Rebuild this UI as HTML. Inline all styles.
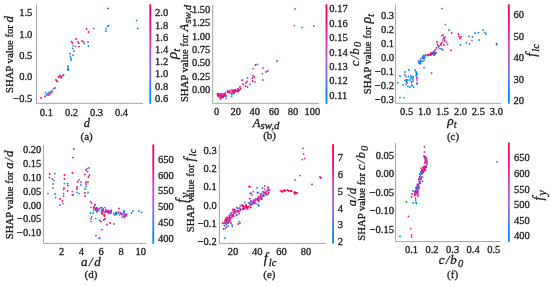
<!DOCTYPE html>
<html><head><meta charset="utf-8"><title>SHAP dependence plots</title>
<style>
html,body{margin:0;padding:0;background:#fff;}
svg{display:block;}
text{font-family:"Liberation Serif",serif;fill:#1c1c1c;stroke:#1c1c1c;stroke-width:0.3px;}
</style></head><body>
<svg width="550" height="286" viewBox="0 0 550 286">
<defs><linearGradient id="g" x1="0" y1="0" x2="0" y2="1"><stop offset="0.00" stop-color="#ff0051"/><stop offset="0.10" stop-color="#ff006e"/><stop offset="0.20" stop-color="#fb008a"/><stop offset="0.30" stop-color="#ef1ea5"/><stop offset="0.40" stop-color="#dc3abe"/><stop offset="0.50" stop-color="#c44fd4"/><stop offset="0.60" stop-color="#a460e6"/><stop offset="0.70" stop-color="#7c6ef3"/><stop offset="0.80" stop-color="#407afb"/><stop offset="0.90" stop-color="#0083fd"/><stop offset="1.00" stop-color="#008bfb"/></linearGradient></defs>
<rect width="550" height="286" fill="#fff"/>
<path d="M36.50 4.60V103.35H143.00" fill="none" stroke="#7c7c7c" stroke-width="0.7"/>
<text x="32.30" y="16.07" font-size="10.5" text-anchor="end" style="">1.5</text>
<text x="32.30" y="37.52" font-size="10.5" text-anchor="end" style="">1.0</text>
<text x="32.30" y="58.97" font-size="10.5" text-anchor="end" style="">0.5</text>
<text x="32.30" y="80.41" font-size="10.5" text-anchor="end" style="">0.0</text>
<text x="32.30" y="101.86" font-size="10.5" text-anchor="end" style="">−0.5</text>
<text x="46.40" y="115.67" font-size="10.5" text-anchor="middle" style="">0.1</text>
<text x="71.45" y="115.67" font-size="10.5" text-anchor="middle" style="">0.2</text>
<text x="96.50" y="115.67" font-size="10.5" text-anchor="middle" style="">0.3</text>
<text x="121.55" y="115.67" font-size="10.5" text-anchor="middle" style="">0.4</text>
<path d="M34.90 12.60H36.50M34.90 34.05H36.50M34.90 55.50H36.50M34.90 76.95H36.50M34.90 98.40H36.50M46.40 103.35V104.95M71.45 103.35V104.95M96.50 103.35V104.95M121.55 103.35V104.95" stroke="#c4c4c4" stroke-width="0.6" fill="none"/>
<rect x="149.35" y="4.30" width="1.8" height="99.50" fill="url(#g)"/>
<text x="155.00" y="16.46" font-size="10.5" text-anchor="start" style="">2.0</text>
<text x="155.00" y="28.66" font-size="10.5" text-anchor="start" style="">1.8</text>
<text x="155.00" y="40.87" font-size="10.5" text-anchor="start" style="">1.6</text>
<text x="155.00" y="53.06" font-size="10.5" text-anchor="start" style="">1.4</text>
<text x="155.00" y="65.27" font-size="10.5" text-anchor="start" style="">1.2</text>
<text x="155.00" y="77.47" font-size="10.5" text-anchor="start" style="">1.0</text>
<text x="155.00" y="89.66" font-size="10.5" text-anchor="start" style="">0.8</text>
<text x="155.00" y="101.86" font-size="10.5" text-anchor="start" style="">0.6</text>
<text x="86.80" y="127.30" font-size="12.5" text-anchor="middle" style="" id="ax"><tspan font-style="italic">d</tspan></text>
<text x="86.60" y="139.50" font-size="11" text-anchor="middle" style="" id="ac">(a)</text>
<text x="12.70" y="54.50" font-size="10.7" text-anchor="middle" style="" transform="rotate(-90 12.70 54.50)" id="ay">SHAP value for <tspan font-style="italic" font-size="13">d</tspan></text>
<text x="177.20" y="54.00" font-size="13" text-anchor="middle" style="" transform="rotate(-90 177.20 54.00)" id="ab"><tspan font-style="italic" font-size="15">ρ</tspan><tspan font-style="italic" font-size="10.5" dy="2.5" dx="0">t</tspan></text>
<circle cx="108.0" cy="8.4" r="0.9" fill="#ff0060"/>
<circle cx="136.6" cy="20.4" r="0.9" fill="#0089fc"/>
<circle cx="137.8" cy="28.4" r="0.9" fill="#0089fc"/>
<circle cx="107.6" cy="26.4" r="0.9" fill="#0089fc"/>
<circle cx="108.4" cy="25.6" r="0.9" fill="#0089fc"/>
<circle cx="106.0" cy="28.8" r="0.9" fill="#0089fc"/>
<circle cx="106.0" cy="31.2" r="0.9" fill="#0089fc"/>
<circle cx="93.6" cy="28.4" r="0.9" fill="#9a48dc"/>
<circle cx="86.6" cy="29.0" r="0.9" fill="#ff0060"/>
<circle cx="88.4" cy="32.0" r="0.9" fill="#ff0060"/>
<circle cx="76.0" cy="39.0" r="0.9" fill="#ff0060"/>
<circle cx="71.6" cy="41.6" r="0.9" fill="#ff0060"/>
<circle cx="72.4" cy="43.2" r="0.9" fill="#ff0060"/>
<circle cx="78.0" cy="42.0" r="0.9" fill="#0089fc"/>
<circle cx="78.6" cy="43.2" r="0.9" fill="#ff0060"/>
<circle cx="82.0" cy="41.0" r="0.9" fill="#ff0060"/>
<circle cx="83.6" cy="42.0" r="0.9" fill="#9a48dc"/>
<circle cx="84.0" cy="43.6" r="0.9" fill="#0089fc"/>
<circle cx="88.0" cy="42.0" r="0.9" fill="#9a48dc"/>
<circle cx="88.4" cy="46.0" r="0.9" fill="#0089fc"/>
<circle cx="73.0" cy="45.6" r="0.9" fill="#0089fc"/>
<circle cx="75.4" cy="46.4" r="0.9" fill="#9a48dc"/>
<circle cx="72.6" cy="48.4" r="0.9" fill="#0089fc"/>
<circle cx="79.0" cy="46.6" r="0.9" fill="#ff0060"/>
<circle cx="74.0" cy="51.0" r="0.9" fill="#9a48dc"/>
<circle cx="70.0" cy="53.6" r="0.9" fill="#ff0060"/>
<circle cx="73.0" cy="55.2" r="0.9" fill="#0089fc"/>
<circle cx="70.4" cy="56.4" r="0.9" fill="#0089fc"/>
<circle cx="71.0" cy="58.4" r="0.9" fill="#0089fc"/>
<circle cx="71.0" cy="60.0" r="0.9" fill="#0089fc"/>
<circle cx="68.0" cy="66.0" r="0.9" fill="#0089fc"/>
<circle cx="68.0" cy="68.0" r="0.9" fill="#0089fc"/>
<circle cx="68.6" cy="70.0" r="0.9" fill="#0089fc"/>
<circle cx="67.6" cy="69.6" r="0.9" fill="#ff0060"/>
<circle cx="59.6" cy="75.6" r="0.9" fill="#ff0060"/>
<circle cx="61.6" cy="77.0" r="0.9" fill="#0089fc"/>
<circle cx="58.6" cy="77.0" r="0.9" fill="#ff0060"/>
<circle cx="63.6" cy="75.0" r="0.9" fill="#0089fc"/>
<circle cx="61.0" cy="78.0" r="0.9" fill="#9a48dc"/>
<circle cx="60.4" cy="76.4" r="0.9" fill="#ff0060"/>
<circle cx="62.6" cy="75.6" r="0.9" fill="#9a48dc"/>
<circle cx="56.0" cy="80.0" r="0.9" fill="#ff0060"/>
<circle cx="57.6" cy="81.6" r="0.9" fill="#0089fc"/>
<circle cx="56.8" cy="81.0" r="0.9" fill="#ff0060"/>
<circle cx="55.0" cy="88.0" r="0.9" fill="#ff0060"/>
<circle cx="53.6" cy="88.6" r="0.9" fill="#0089fc"/>
<circle cx="45.6" cy="92.6" r="0.9" fill="#0089fc"/>
<circle cx="50.0" cy="91.6" r="0.9" fill="#0089fc"/>
<circle cx="51.6" cy="92.4" r="0.9" fill="#ff0060"/>
<circle cx="49.0" cy="93.0" r="0.9" fill="#0089fc"/>
<circle cx="49.0" cy="95.0" r="0.9" fill="#ff0060"/>
<circle cx="47.0" cy="95.0" r="0.9" fill="#9a48dc"/>
<circle cx="45.0" cy="96.4" r="0.9" fill="#ff0060"/>
<circle cx="52.0" cy="91.0" r="0.9" fill="#0089fc"/>
<circle cx="48.0" cy="93.6" r="0.9" fill="#ff0060"/>
<circle cx="50.6" cy="93.6" r="0.9" fill="#9a48dc"/>
<circle cx="46.4" cy="94.6" r="0.9" fill="#0089fc"/>
<circle cx="41.0" cy="98.0" r="0.9" fill="#ff0060"/>
<path d="M212.70 4.70V103.35H319.00" fill="none" stroke="#7c7c7c" stroke-width="0.7"/>
<text x="210.30" y="12.66" font-size="10.5" text-anchor="end" style="">1.50</text>
<text x="210.30" y="26.11" font-size="10.5" text-anchor="end" style="">1.25</text>
<text x="210.30" y="39.56" font-size="10.5" text-anchor="end" style="">1.00</text>
<text x="210.30" y="53.02" font-size="10.5" text-anchor="end" style="">0.75</text>
<text x="210.30" y="66.47" font-size="10.5" text-anchor="end" style="">0.50</text>
<text x="210.30" y="79.92" font-size="10.5" text-anchor="end" style="">0.25</text>
<text x="210.30" y="93.36" font-size="10.5" text-anchor="end" style="">0.00</text>
<text x="216.60" y="114.97" font-size="10.5" text-anchor="middle" style="">0</text>
<text x="235.73" y="114.97" font-size="10.5" text-anchor="middle" style="">20</text>
<text x="254.86" y="114.97" font-size="10.5" text-anchor="middle" style="">40</text>
<text x="273.99" y="114.97" font-size="10.5" text-anchor="middle" style="">60</text>
<text x="293.12" y="114.97" font-size="10.5" text-anchor="middle" style="">80</text>
<text x="312.25" y="114.97" font-size="10.5" text-anchor="middle" style="">100</text>
<path d="M211.10 9.20H212.70M211.10 22.65H212.70M211.10 36.10H212.70M211.10 49.55H212.70M211.10 63.00H212.70M211.10 76.45H212.70M211.10 89.90H212.70M216.60 103.35V104.95M235.73 103.35V104.95M254.86 103.35V104.95M273.99 103.35V104.95M293.12 103.35V104.95M312.25 103.35V104.95" stroke="#c4c4c4" stroke-width="0.6" fill="none"/>
<rect x="325.55" y="4.30" width="1.8" height="99.50" fill="url(#g)"/>
<text x="329.30" y="12.46" font-size="10.5" text-anchor="start" style="">0.17</text>
<text x="329.30" y="26.86" font-size="10.5" text-anchor="start" style="">0.16</text>
<text x="329.30" y="41.27" font-size="10.5" text-anchor="start" style="">0.15</text>
<text x="329.30" y="55.67" font-size="10.5" text-anchor="start" style="">0.14</text>
<text x="329.30" y="70.06" font-size="10.5" text-anchor="start" style="">0.13</text>
<text x="329.30" y="84.47" font-size="10.5" text-anchor="start" style="">0.12</text>
<text x="329.30" y="98.87" font-size="10.5" text-anchor="start" style="">0.11</text>
<text x="266.00" y="126.50" font-size="13" text-anchor="middle" style="" id="bx"><tspan font-style="italic" font-size="12.5">A</tspan><tspan font-style="italic" font-size="10.8" dy="2.5" dx="0.3">sw,d</tspan></text>
<text x="269.60" y="139.40" font-size="11" text-anchor="middle" style="" id="bc">(b)</text>
<text x="188.00" y="53.50" font-size="10.7" text-anchor="middle" style="" transform="rotate(-90 188.00 53.50)" id="by">SHAP value for <tspan font-style="italic" font-size="12.5">A</tspan><tspan font-style="italic" font-size="10.8" dy="2.5" dx="0.3">sw,d</tspan></text>
<text x="358.50" y="54.00" font-size="13" text-anchor="middle" style="" transform="rotate(-90 358.50 54.00)" id="bb"><tspan font-style="italic" font-size="13" letter-spacing="1.1">c/b</tspan><tspan font-style="italic" font-size="10.5" dy="2.5">0</tspan></text>
<circle cx="277.0" cy="61.0" r="0.9" fill="#ff0060"/>
<circle cx="257.4" cy="64.4" r="0.9" fill="#0089fc"/>
<circle cx="255.6" cy="65.0" r="0.9" fill="#ff0060"/>
<circle cx="253.0" cy="68.6" r="0.9" fill="#9a48dc"/>
<circle cx="263.0" cy="68.0" r="0.9" fill="#9a48dc"/>
<circle cx="267.6" cy="71.0" r="0.9" fill="#ff0060"/>
<circle cx="266.0" cy="72.0" r="0.9" fill="#9a48dc"/>
<circle cx="262.4" cy="73.6" r="0.9" fill="#0089fc"/>
<circle cx="253.0" cy="75.6" r="0.9" fill="#ff0060"/>
<circle cx="254.4" cy="77.0" r="0.9" fill="#ff0060"/>
<circle cx="252.4" cy="78.0" r="0.9" fill="#ff0060"/>
<circle cx="247.4" cy="78.0" r="0.9" fill="#9a48dc"/>
<circle cx="242.0" cy="80.4" r="0.9" fill="#0089fc"/>
<circle cx="242.6" cy="80.0" r="0.9" fill="#9a48dc"/>
<circle cx="263.0" cy="80.0" r="0.9" fill="#9a48dc"/>
<circle cx="252.6" cy="81.0" r="0.9" fill="#ff0060"/>
<circle cx="255.0" cy="82.0" r="0.9" fill="#9a48dc"/>
<circle cx="247.0" cy="81.4" r="0.9" fill="#ff0060"/>
<circle cx="246.0" cy="83.0" r="0.9" fill="#ff0060"/>
<circle cx="250.0" cy="84.4" r="0.9" fill="#9a48dc"/>
<circle cx="243.0" cy="84.0" r="0.9" fill="#ff0060"/>
<circle cx="245.6" cy="86.0" r="0.9" fill="#ff0060"/>
<circle cx="247.6" cy="87.0" r="0.9" fill="#9a48dc"/>
<circle cx="240.0" cy="87.0" r="0.9" fill="#ff0060"/>
<circle cx="240.4" cy="89.0" r="0.9" fill="#ff0060"/>
<circle cx="232.0" cy="94.4" r="0.9" fill="#0089fc"/>
<circle cx="231.6" cy="96.4" r="0.9" fill="#0089fc"/>
<circle cx="223.6" cy="96.0" r="0.9" fill="#0089fc"/>
<circle cx="235.0" cy="91.0" r="0.9" fill="#0089fc"/>
<circle cx="220.4" cy="99.0" r="0.9" fill="#ff0060"/>
<circle cx="295.0" cy="9.0" r="0.9" fill="#dc2cc0"/>
<circle cx="294.4" cy="25.6" r="0.9" fill="#dc2cc0"/>
<circle cx="302.0" cy="27.6" r="0.9" fill="#0089fc"/>
<circle cx="314.0" cy="26.0" r="0.9" fill="#dc2cc0"/>
<circle cx="220.9" cy="95.9" r="0.9" fill="#ff0060"/>
<circle cx="225.1" cy="95.7" r="0.9" fill="#dc2cc0"/>
<circle cx="220.0" cy="95.2" r="0.9" fill="#ff0060"/>
<circle cx="217.7" cy="95.5" r="0.9" fill="#ff0060"/>
<circle cx="225.1" cy="94.0" r="0.9" fill="#ff0060"/>
<circle cx="221.4" cy="96.5" r="0.9" fill="#ff0060"/>
<circle cx="222.7" cy="95.6" r="0.9" fill="#dc2cc0"/>
<circle cx="218.4" cy="96.4" r="0.9" fill="#ff0060"/>
<circle cx="218.4" cy="94.4" r="0.9" fill="#ff0060"/>
<circle cx="222.5" cy="95.0" r="0.9" fill="#ff0060"/>
<circle cx="221.0" cy="94.5" r="0.9" fill="#ff0060"/>
<circle cx="222.2" cy="95.1" r="0.9" fill="#ff0060"/>
<circle cx="223.6" cy="96.2" r="0.9" fill="#dc2cc0"/>
<circle cx="221.6" cy="95.7" r="0.9" fill="#dc2cc0"/>
<circle cx="226.2" cy="95.7" r="0.9" fill="#ff0060"/>
<circle cx="218.9" cy="94.7" r="0.9" fill="#9a48dc"/>
<circle cx="217.6" cy="94.0" r="0.9" fill="#ff0060"/>
<circle cx="220.2" cy="95.7" r="0.9" fill="#ff0060"/>
<circle cx="218.7" cy="95.1" r="0.9" fill="#9a48dc"/>
<circle cx="224.0" cy="95.4" r="0.9" fill="#9a48dc"/>
<circle cx="222.3" cy="93.8" r="0.9" fill="#9a48dc"/>
<circle cx="220.9" cy="94.6" r="0.9" fill="#ff0060"/>
<circle cx="220.3" cy="94.0" r="0.9" fill="#ff0060"/>
<circle cx="224.4" cy="95.5" r="0.9" fill="#ff0060"/>
<circle cx="225.0" cy="95.0" r="0.9" fill="#ff0060"/>
<circle cx="223.0" cy="93.6" r="0.9" fill="#dc2cc0"/>
<circle cx="219.7" cy="95.2" r="0.9" fill="#ff0060"/>
<circle cx="225.8" cy="95.5" r="0.9" fill="#ff0060"/>
<circle cx="224.1" cy="95.0" r="0.9" fill="#ff0060"/>
<circle cx="220.5" cy="94.7" r="0.9" fill="#ff0060"/>
<circle cx="222.7" cy="95.3" r="0.9" fill="#dc2cc0"/>
<circle cx="225.1" cy="93.6" r="0.9" fill="#ff0060"/>
<circle cx="225.4" cy="93.0" r="0.9" fill="#dc2cc0"/>
<circle cx="220.8" cy="95.0" r="0.9" fill="#9a48dc"/>
<circle cx="221.6" cy="97.5" r="0.9" fill="#ff0060"/>
<circle cx="219.0" cy="94.9" r="0.9" fill="#ff0060"/>
<circle cx="221.3" cy="94.3" r="0.9" fill="#dc2cc0"/>
<circle cx="218.5" cy="93.6" r="0.9" fill="#ff0060"/>
<circle cx="236.0" cy="90.6" r="0.9" fill="#ff0060"/>
<circle cx="229.5" cy="90.3" r="0.9" fill="#ff0060"/>
<circle cx="233.2" cy="91.9" r="0.9" fill="#9a48dc"/>
<circle cx="231.4" cy="93.3" r="0.9" fill="#ff0060"/>
<circle cx="234.1" cy="93.3" r="0.9" fill="#ff0060"/>
<circle cx="228.8" cy="92.2" r="0.9" fill="#dc2cc0"/>
<circle cx="230.8" cy="91.7" r="0.9" fill="#ff0060"/>
<circle cx="234.2" cy="91.0" r="0.9" fill="#ff0060"/>
<circle cx="234.1" cy="90.6" r="0.9" fill="#ff0060"/>
<circle cx="235.2" cy="89.7" r="0.9" fill="#ff0060"/>
<circle cx="237.8" cy="89.1" r="0.9" fill="#ff0060"/>
<circle cx="228.8" cy="92.2" r="0.9" fill="#ff0060"/>
<circle cx="237.0" cy="90.5" r="0.9" fill="#dc2cc0"/>
<circle cx="238.3" cy="90.4" r="0.9" fill="#ff0060"/>
<circle cx="239.2" cy="90.2" r="0.9" fill="#ff0060"/>
<circle cx="232.9" cy="92.3" r="0.9" fill="#dc2cc0"/>
<circle cx="237.2" cy="90.3" r="0.9" fill="#9a48dc"/>
<circle cx="227.5" cy="90.9" r="0.9" fill="#9a48dc"/>
<circle cx="236.5" cy="90.6" r="0.9" fill="#9a48dc"/>
<circle cx="231.8" cy="89.8" r="0.9" fill="#ff0060"/>
<circle cx="233.1" cy="91.2" r="0.9" fill="#ff0060"/>
<circle cx="229.4" cy="92.6" r="0.9" fill="#ff0060"/>
<circle cx="238.1" cy="91.5" r="0.9" fill="#ff0060"/>
<circle cx="235.2" cy="91.7" r="0.9" fill="#ff0060"/>
<circle cx="227.5" cy="91.3" r="0.9" fill="#ff0060"/>
<circle cx="234.4" cy="91.0" r="0.9" fill="#ff0060"/>
<circle cx="237.9" cy="90.8" r="0.9" fill="#ff0060"/>
<circle cx="233.6" cy="90.7" r="0.9" fill="#dc2cc0"/>
<circle cx="233.3" cy="93.0" r="0.9" fill="#ff0060"/>
<circle cx="238.2" cy="88.7" r="0.9" fill="#dc2cc0"/>
<circle cx="233.1" cy="91.2" r="0.9" fill="#dc2cc0"/>
<circle cx="228.0" cy="92.2" r="0.9" fill="#ff0060"/>
<circle cx="235.0" cy="90.6" r="0.9" fill="#ff0060"/>
<circle cx="233.1" cy="90.5" r="0.9" fill="#ff0060"/>
<circle cx="235.4" cy="90.6" r="0.9" fill="#ff0060"/>
<circle cx="238.8" cy="90.2" r="0.9" fill="#ff0060"/>
<circle cx="223.4" cy="96.5" r="0.9" fill="#ff0060"/>
<circle cx="221.4" cy="95.9" r="0.9" fill="#0089fc"/>
<circle cx="220.2" cy="97.4" r="0.9" fill="#9a48dc"/>
<circle cx="222.6" cy="97.5" r="0.9" fill="#9a48dc"/>
<circle cx="225.9" cy="96.2" r="0.9" fill="#9a48dc"/>
<circle cx="220.6" cy="97.1" r="0.9" fill="#ff0060"/>
<circle cx="223.2" cy="96.7" r="0.9" fill="#9a48dc"/>
<circle cx="224.9" cy="96.2" r="0.9" fill="#0089fc"/>
<circle cx="223.1" cy="97.0" r="0.9" fill="#ff0060"/>
<circle cx="226.1" cy="98.4" r="0.9" fill="#9a48dc"/>
<path d="M395.60 4.60V103.35H501.00" fill="none" stroke="#7c7c7c" stroke-width="0.7"/>
<text x="394.00" y="18.96" font-size="10.5" text-anchor="end" style="">0.3</text>
<text x="394.00" y="32.97" font-size="10.5" text-anchor="end" style="">0.2</text>
<text x="394.00" y="46.97" font-size="10.5" text-anchor="end" style="">0.1</text>
<text x="394.00" y="60.97" font-size="10.5" text-anchor="end" style="">0.0</text>
<text x="394.00" y="74.97" font-size="10.5" text-anchor="end" style="">−0.1</text>
<text x="394.00" y="88.97" font-size="10.5" text-anchor="end" style="">−0.2</text>
<text x="394.00" y="102.97" font-size="10.5" text-anchor="end" style="">−0.3</text>
<text x="406.60" y="114.97" font-size="10.5" text-anchor="middle" style="">0.5</text>
<text x="424.55" y="114.97" font-size="10.5" text-anchor="middle" style="">1.0</text>
<text x="442.50" y="114.97" font-size="10.5" text-anchor="middle" style="">1.5</text>
<text x="460.45" y="114.97" font-size="10.5" text-anchor="middle" style="">2.0</text>
<text x="478.40" y="114.97" font-size="10.5" text-anchor="middle" style="">2.5</text>
<text x="496.35" y="114.97" font-size="10.5" text-anchor="middle" style="">3.0</text>
<path d="M394.00 15.50H395.60M394.00 29.50H395.60M394.00 43.50H395.60M394.00 57.50H395.60M394.00 71.50H395.60M394.00 85.50H395.60M394.00 99.50H395.60M406.60 103.35V104.95M424.55 103.35V104.95M442.50 103.35V104.95M460.45 103.35V104.95M478.40 103.35V104.95M496.35 103.35V104.95" stroke="#c4c4c4" stroke-width="0.6" fill="none"/>
<rect x="507.95" y="4.30" width="1.8" height="99.30" fill="url(#g)"/>
<text x="513.50" y="17.96" font-size="10.5" text-anchor="start" style="">60</text>
<text x="513.50" y="39.57" font-size="10.5" text-anchor="start" style="">50</text>
<text x="513.50" y="61.17" font-size="10.5" text-anchor="start" style="">40</text>
<text x="513.50" y="82.77" font-size="10.5" text-anchor="start" style="">30</text>
<text x="513.50" y="104.37" font-size="10.5" text-anchor="start" style="">20</text>
<text x="452.00" y="125.30" font-size="13" text-anchor="middle" style="" id="cx"><tspan font-style="italic" font-size="13.5">ρ</tspan><tspan font-style="italic" font-size="10" dy="2.5" dx="0">t</tspan></text>
<text x="453.00" y="139.80" font-size="11" text-anchor="middle" style="" id="cc">(c)</text>
<text x="371.40" y="54.10" font-size="10.7" text-anchor="middle" style="" transform="rotate(-90 371.40 54.10)" id="cy">SHAP value for <tspan font-style="italic" font-size="14">ρ</tspan><tspan font-style="italic" font-size="10" dy="2.5" dx="0">t</tspan></text>
<text x="536.00" y="50.40" font-size="13" text-anchor="middle" style="" transform="rotate(-90 536.00 50.40)" id="cb"><tspan font-style="italic" font-size="14">f</tspan><tspan font-style="italic" font-size="10.5" dy="2.6" dx="1.2">lc</tspan></text>
<circle cx="442.0" cy="8.6" r="0.9" fill="#9a48dc"/>
<circle cx="445.4" cy="24.6" r="0.9" fill="#9a48dc"/>
<circle cx="449.0" cy="30.0" r="0.9" fill="#0089fc"/>
<circle cx="451.6" cy="33.0" r="0.9" fill="#ff0060"/>
<circle cx="443.0" cy="35.0" r="0.9" fill="#9a48dc"/>
<circle cx="442.0" cy="35.6" r="0.9" fill="#ff0060"/>
<circle cx="445.0" cy="37.0" r="0.9" fill="#9a48dc"/>
<circle cx="444.4" cy="39.0" r="0.9" fill="#9a48dc"/>
<circle cx="437.0" cy="42.0" r="0.9" fill="#ff0060"/>
<circle cx="442.0" cy="42.6" r="0.9" fill="#ff0060"/>
<circle cx="441.0" cy="43.6" r="0.9" fill="#ff0060"/>
<circle cx="446.4" cy="42.4" r="0.9" fill="#9a48dc"/>
<circle cx="447.6" cy="44.4" r="0.9" fill="#9a48dc"/>
<circle cx="444.0" cy="45.0" r="0.9" fill="#ff0060"/>
<circle cx="458.4" cy="34.0" r="0.9" fill="#ff0060"/>
<circle cx="459.0" cy="36.4" r="0.9" fill="#ff0060"/>
<circle cx="461.0" cy="37.0" r="0.9" fill="#ff0060"/>
<circle cx="460.0" cy="38.4" r="0.9" fill="#ff0060"/>
<circle cx="469.0" cy="36.4" r="0.9" fill="#4f6ff0"/>
<circle cx="472.4" cy="37.0" r="0.9" fill="#4f6ff0"/>
<circle cx="475.0" cy="33.0" r="0.9" fill="#0089fc"/>
<circle cx="478.4" cy="32.6" r="0.9" fill="#0089fc"/>
<circle cx="483.0" cy="30.0" r="0.9" fill="#0089fc"/>
<circle cx="485.0" cy="32.4" r="0.9" fill="#0089fc"/>
<circle cx="486.0" cy="34.0" r="0.9" fill="#0089fc"/>
<circle cx="479.0" cy="40.0" r="0.9" fill="#0089fc"/>
<circle cx="472.0" cy="40.6" r="0.9" fill="#4f6ff0"/>
<circle cx="466.4" cy="43.0" r="0.9" fill="#4f6ff0"/>
<circle cx="469.6" cy="44.0" r="0.9" fill="#4f6ff0"/>
<circle cx="460.4" cy="45.0" r="0.9" fill="#0089fc"/>
<circle cx="496.4" cy="43.6" r="0.9" fill="#ff0060"/>
<circle cx="496.8" cy="44.8" r="0.9" fill="#0089fc"/>
<circle cx="436.4" cy="48.0" r="0.9" fill="#ff0060"/>
<circle cx="440.0" cy="48.6" r="0.9" fill="#0089fc"/>
<circle cx="441.6" cy="49.0" r="0.9" fill="#0089fc"/>
<circle cx="443.0" cy="50.0" r="0.9" fill="#9a48dc"/>
<circle cx="451.0" cy="50.4" r="0.9" fill="#ff0060"/>
<circle cx="435.0" cy="50.0" r="0.9" fill="#ff0060"/>
<circle cx="434.0" cy="51.6" r="0.9" fill="#0089fc"/>
<circle cx="424.0" cy="67.6" r="0.9" fill="#0089fc"/>
<circle cx="431.6" cy="73.0" r="0.9" fill="#9a48dc"/>
<circle cx="409.0" cy="70.0" r="0.9" fill="#0089fc"/>
<circle cx="415.0" cy="70.0" r="0.9" fill="#0089fc"/>
<circle cx="416.0" cy="72.0" r="0.9" fill="#0089fc"/>
<circle cx="417.0" cy="74.0" r="0.9" fill="#0089fc"/>
<circle cx="416.4" cy="76.0" r="0.9" fill="#0089fc"/>
<circle cx="405.0" cy="72.0" r="0.9" fill="#0089fc"/>
<circle cx="405.0" cy="75.0" r="0.9" fill="#9a48dc"/>
<circle cx="400.0" cy="76.0" r="0.9" fill="#0089fc"/>
<circle cx="413.0" cy="78.0" r="0.9" fill="#0089fc"/>
<circle cx="411.0" cy="78.0" r="0.9" fill="#0089fc"/>
<circle cx="417.0" cy="78.0" r="0.9" fill="#ff0060"/>
<circle cx="417.0" cy="80.0" r="0.9" fill="#9a48dc"/>
<circle cx="417.0" cy="83.0" r="0.9" fill="#9a48dc"/>
<circle cx="406.4" cy="81.0" r="0.9" fill="#0089fc"/>
<circle cx="410.0" cy="80.0" r="0.9" fill="#0089fc"/>
<circle cx="411.6" cy="82.0" r="0.9" fill="#ff0060"/>
<circle cx="407.0" cy="83.0" r="0.9" fill="#0089fc"/>
<circle cx="406.0" cy="84.4" r="0.9" fill="#9a48dc"/>
<circle cx="403.0" cy="85.0" r="0.9" fill="#0089fc"/>
<circle cx="408.0" cy="86.4" r="0.9" fill="#0089fc"/>
<circle cx="410.0" cy="87.0" r="0.9" fill="#0089fc"/>
<circle cx="412.0" cy="85.6" r="0.9" fill="#0089fc"/>
<circle cx="413.6" cy="87.0" r="0.9" fill="#0089fc"/>
<circle cx="417.0" cy="84.0" r="0.9" fill="#0089fc"/>
<circle cx="400.0" cy="97.6" r="0.9" fill="#0089fc"/>
<circle cx="404.0" cy="97.6" r="0.9" fill="#0089fc"/>
<circle cx="435.2" cy="53.9" r="0.9" fill="#0089fc"/>
<circle cx="425.0" cy="55.8" r="0.9" fill="#ff0060"/>
<circle cx="428.8" cy="54.6" r="0.9" fill="#ff0060"/>
<circle cx="423.4" cy="55.6" r="0.9" fill="#0089fc"/>
<circle cx="427.9" cy="54.4" r="0.9" fill="#0089fc"/>
<circle cx="425.8" cy="55.3" r="0.9" fill="#0089fc"/>
<circle cx="424.8" cy="57.4" r="0.9" fill="#0089fc"/>
<circle cx="427.8" cy="55.5" r="0.9" fill="#4f6ff0"/>
<circle cx="433.8" cy="53.5" r="0.9" fill="#9a48dc"/>
<circle cx="430.7" cy="53.5" r="0.9" fill="#0089fc"/>
<circle cx="434.3" cy="54.7" r="0.9" fill="#ff0060"/>
<circle cx="434.3" cy="51.6" r="0.9" fill="#0089fc"/>
<circle cx="431.4" cy="54.3" r="0.9" fill="#0089fc"/>
<circle cx="428.8" cy="55.1" r="0.9" fill="#ff0060"/>
<circle cx="432.6" cy="54.0" r="0.9" fill="#0089fc"/>
<circle cx="435.6" cy="53.1" r="0.9" fill="#ff0060"/>
<circle cx="431.0" cy="53.5" r="0.9" fill="#ff0060"/>
<circle cx="430.3" cy="54.7" r="0.9" fill="#0089fc"/>
<circle cx="436.1" cy="52.6" r="0.9" fill="#9a48dc"/>
<circle cx="430.9" cy="54.7" r="0.9" fill="#ff0060"/>
<circle cx="425.6" cy="54.8" r="0.9" fill="#ff0060"/>
<circle cx="432.1" cy="52.5" r="0.9" fill="#ff0060"/>
<circle cx="432.9" cy="53.4" r="0.9" fill="#4f6ff0"/>
<circle cx="434.3" cy="55.2" r="0.9" fill="#0089fc"/>
<circle cx="435.1" cy="53.1" r="0.9" fill="#ff0060"/>
<circle cx="430.2" cy="54.7" r="0.9" fill="#ff0060"/>
<circle cx="434.1" cy="52.3" r="0.9" fill="#0089fc"/>
<circle cx="432.8" cy="53.6" r="0.9" fill="#ff0060"/>
<circle cx="443.6" cy="38.0" r="0.9" fill="#ff0060"/>
<circle cx="442.6" cy="40.0" r="0.9" fill="#9a48dc"/>
<circle cx="444.6" cy="41.0" r="0.9" fill="#ff0060"/>
<circle cx="441.0" cy="45.0" r="0.9" fill="#ff0060"/>
<circle cx="439.0" cy="46.0" r="0.9" fill="#ff0060"/>
<circle cx="437.6" cy="45.0" r="0.9" fill="#ff0060"/>
<circle cx="438.4" cy="47.0" r="0.9" fill="#9a48dc"/>
<circle cx="420.6" cy="63.3" r="0.9" fill="#0089fc"/>
<circle cx="420.3" cy="61.7" r="0.9" fill="#0089fc"/>
<circle cx="419.0" cy="62.9" r="0.9" fill="#0089fc"/>
<circle cx="421.6" cy="61.2" r="0.9" fill="#0089fc"/>
<circle cx="418.8" cy="62.6" r="0.9" fill="#0089fc"/>
<circle cx="420.1" cy="62.3" r="0.9" fill="#0089fc"/>
<circle cx="420.6" cy="59.1" r="0.9" fill="#9a48dc"/>
<circle cx="423.6" cy="57.2" r="0.9" fill="#0089fc"/>
<circle cx="423.2" cy="58.5" r="0.9" fill="#9a48dc"/>
<circle cx="423.7" cy="58.2" r="0.9" fill="#0089fc"/>
<circle cx="422.7" cy="57.0" r="0.9" fill="#0089fc"/>
<circle cx="419.8" cy="63.7" r="0.9" fill="#0089fc"/>
<circle cx="420.1" cy="60.9" r="0.9" fill="#0089fc"/>
<circle cx="422.0" cy="58.0" r="0.9" fill="#0089fc"/>
<circle cx="422.8" cy="61.3" r="0.9" fill="#0089fc"/>
<circle cx="424.1" cy="59.9" r="0.9" fill="#0089fc"/>
<circle cx="424.6" cy="57.7" r="0.9" fill="#0089fc"/>
<circle cx="418.9" cy="61.0" r="0.9" fill="#9a48dc"/>
<circle cx="406.5" cy="81.9" r="0.9" fill="#0089fc"/>
<circle cx="410.9" cy="75.8" r="0.9" fill="#0089fc"/>
<circle cx="406.0" cy="76.8" r="0.9" fill="#9a48dc"/>
<circle cx="411.6" cy="77.3" r="0.9" fill="#0089fc"/>
<circle cx="416.9" cy="73.4" r="0.9" fill="#0089fc"/>
<circle cx="405.0" cy="80.2" r="0.9" fill="#0089fc"/>
<circle cx="416.0" cy="74.7" r="0.9" fill="#0089fc"/>
<circle cx="416.1" cy="72.1" r="0.9" fill="#0089fc"/>
<circle cx="397.8" cy="82.7" r="0.9" fill="#0089fc"/>
<circle cx="413.0" cy="76.4" r="0.9" fill="#0089fc"/>
<circle cx="412.7" cy="79.5" r="0.9" fill="#0089fc"/>
<circle cx="406.7" cy="79.6" r="0.9" fill="#0089fc"/>
<circle cx="413.0" cy="81.1" r="0.9" fill="#0089fc"/>
<circle cx="411.6" cy="84.6" r="0.9" fill="#0089fc"/>
<circle cx="408.5" cy="76.5" r="0.9" fill="#0089fc"/>
<circle cx="407.9" cy="80.1" r="0.9" fill="#0089fc"/>
<path d="M43.60 144.80V243.40H146.00" fill="none" stroke="#7c7c7c" stroke-width="0.7"/>
<text x="41.30" y="153.37" font-size="10.5" text-anchor="end" style="">0.20</text>
<text x="41.30" y="167.17" font-size="10.5" text-anchor="end" style="">0.15</text>
<text x="41.30" y="180.97" font-size="10.5" text-anchor="end" style="">0.10</text>
<text x="41.30" y="194.77" font-size="10.5" text-anchor="end" style="">0.05</text>
<text x="41.30" y="208.57" font-size="10.5" text-anchor="end" style="">0.00</text>
<text x="41.30" y="222.37" font-size="10.5" text-anchor="end" style="">−0.05</text>
<text x="41.30" y="236.17" font-size="10.5" text-anchor="end" style="">−0.10</text>
<text x="61.60" y="254.97" font-size="10.5" text-anchor="middle" style="">2</text>
<text x="81.40" y="254.97" font-size="10.5" text-anchor="middle" style="">4</text>
<text x="101.20" y="254.97" font-size="10.5" text-anchor="middle" style="">6</text>
<text x="121.00" y="254.97" font-size="10.5" text-anchor="middle" style="">8</text>
<text x="140.80" y="254.97" font-size="10.5" text-anchor="middle" style="">10</text>
<path d="M42.00 149.90H43.60M42.00 163.70H43.60M42.00 177.50H43.60M42.00 191.30H43.60M42.00 205.10H43.60M42.00 218.90H43.60M42.00 232.70H43.60M61.60 243.40V245.00M81.40 243.40V245.00M101.20 243.40V245.00M121.00 243.40V245.00M140.80 243.40V245.00" stroke="#c4c4c4" stroke-width="0.6" fill="none"/>
<rect x="152.35" y="144.40" width="1.8" height="99.30" fill="url(#g)"/>
<text x="158.10" y="163.06" font-size="10.5" text-anchor="start" style="">650</text>
<text x="158.10" y="178.76" font-size="10.5" text-anchor="start" style="">600</text>
<text x="158.10" y="194.47" font-size="10.5" text-anchor="start" style="">550</text>
<text x="158.10" y="210.16" font-size="10.5" text-anchor="start" style="">500</text>
<text x="158.10" y="225.86" font-size="10.5" text-anchor="start" style="">450</text>
<text x="158.10" y="241.56" font-size="10.5" text-anchor="start" style="">400</text>
<text x="91.70" y="265.50" font-size="13" text-anchor="middle" style="" id="dx"><tspan font-style="italic" letter-spacing="1.6">a/d</tspan></text>
<text x="91.00" y="277.60" font-size="11" text-anchor="middle" style="" id="dc">(d)</text>
<text x="13.40" y="194.50" font-size="10.7" text-anchor="middle" style="" transform="rotate(-90 13.40 194.50)" id="dy">SHAP value for <tspan font-style="italic" font-size="13" letter-spacing="0.8">a/d</tspan></text>
<text x="185.80" y="197.60" font-size="13" text-anchor="middle" style="" transform="rotate(-90 185.80 197.60)" id="db"><tspan font-style="italic" font-size="14">f</tspan><tspan font-style="italic" font-size="12.5" dy="2.8" dx="0.8">y</tspan></text>
<circle cx="74.0" cy="149.0" r="0.9" fill="#ff0060"/>
<circle cx="73.0" cy="157.6" r="0.9" fill="#ff0060"/>
<circle cx="89.0" cy="168.0" r="0.9" fill="#9a48dc"/>
<circle cx="87.0" cy="168.6" r="0.9" fill="#9a48dc"/>
<circle cx="86.0" cy="170.0" r="0.9" fill="#ff0060"/>
<circle cx="87.6" cy="171.6" r="0.9" fill="#9a48dc"/>
<circle cx="72.4" cy="173.0" r="0.9" fill="#ff0060"/>
<circle cx="49.6" cy="174.0" r="0.9" fill="#ff0060"/>
<circle cx="55.0" cy="173.6" r="0.9" fill="#0089fc"/>
<circle cx="64.4" cy="175.0" r="0.9" fill="#ff0060"/>
<circle cx="85.0" cy="174.4" r="0.9" fill="#ff0060"/>
<circle cx="89.4" cy="175.0" r="0.9" fill="#0089fc"/>
<circle cx="88.4" cy="177.0" r="0.9" fill="#ff0060"/>
<circle cx="49.4" cy="177.6" r="0.9" fill="#ff0060"/>
<circle cx="52.4" cy="179.0" r="0.9" fill="#9a48dc"/>
<circle cx="64.4" cy="179.0" r="0.9" fill="#ff0060"/>
<circle cx="79.0" cy="180.0" r="0.9" fill="#9a48dc"/>
<circle cx="54.0" cy="180.6" r="0.9" fill="#0089fc"/>
<circle cx="81.0" cy="182.0" r="0.9" fill="#9a48dc"/>
<circle cx="77.6" cy="182.0" r="0.9" fill="#ff0060"/>
<circle cx="86.0" cy="182.0" r="0.9" fill="#ff0060"/>
<circle cx="88.0" cy="182.0" r="0.9" fill="#9a48dc"/>
<circle cx="53.0" cy="184.0" r="0.9" fill="#0089fc"/>
<circle cx="64.4" cy="183.6" r="0.9" fill="#0089fc"/>
<circle cx="67.6" cy="183.6" r="0.9" fill="#ff0060"/>
<circle cx="86.0" cy="184.0" r="0.9" fill="#ff0060"/>
<circle cx="81.0" cy="185.0" r="0.9" fill="#0089fc"/>
<circle cx="68.0" cy="185.6" r="0.9" fill="#ff0060"/>
<circle cx="77.0" cy="187.0" r="0.9" fill="#ff0060"/>
<circle cx="86.0" cy="186.4" r="0.9" fill="#0089fc"/>
<circle cx="53.0" cy="188.0" r="0.9" fill="#9a48dc"/>
<circle cx="64.0" cy="188.0" r="0.9" fill="#ff0060"/>
<circle cx="63.6" cy="189.6" r="0.9" fill="#9a48dc"/>
<circle cx="77.0" cy="189.0" r="0.9" fill="#ff0060"/>
<circle cx="85.0" cy="189.0" r="0.9" fill="#0089fc"/>
<circle cx="67.6" cy="191.0" r="0.9" fill="#ff0060"/>
<circle cx="72.4" cy="191.6" r="0.9" fill="#9a48dc"/>
<circle cx="77.0" cy="192.4" r="0.9" fill="#0089fc"/>
<circle cx="48.0" cy="193.6" r="0.9" fill="#9a48dc"/>
<circle cx="55.0" cy="194.0" r="0.9" fill="#0089fc"/>
<circle cx="63.6" cy="193.6" r="0.9" fill="#9a48dc"/>
<circle cx="79.0" cy="193.6" r="0.9" fill="#0089fc"/>
<circle cx="88.0" cy="192.4" r="0.9" fill="#0089fc"/>
<circle cx="85.0" cy="193.0" r="0.9" fill="#ff0060"/>
<circle cx="72.4" cy="195.0" r="0.9" fill="#9a48dc"/>
<circle cx="73.0" cy="195.0" r="0.9" fill="#ff0060"/>
<circle cx="85.0" cy="196.0" r="0.9" fill="#ff0060"/>
<circle cx="55.6" cy="197.6" r="0.9" fill="#9a48dc"/>
<circle cx="63.6" cy="196.0" r="0.9" fill="#9a48dc"/>
<circle cx="60.0" cy="199.0" r="0.9" fill="#ff0060"/>
<circle cx="62.4" cy="201.0" r="0.9" fill="#ff0060"/>
<circle cx="63.0" cy="203.6" r="0.9" fill="#9a48dc"/>
<circle cx="60.0" cy="205.0" r="0.9" fill="#9a48dc"/>
<circle cx="90.4" cy="201.6" r="0.9" fill="#ff0060"/>
<circle cx="91.6" cy="203.0" r="0.9" fill="#9a48dc"/>
<circle cx="95.0" cy="204.4" r="0.9" fill="#ff0060"/>
<circle cx="94.4" cy="206.0" r="0.9" fill="#9a48dc"/>
<circle cx="93.6" cy="208.0" r="0.9" fill="#ff0060"/>
<circle cx="95.6" cy="209.6" r="0.9" fill="#ff0060"/>
<circle cx="90.4" cy="213.0" r="0.9" fill="#0089fc"/>
<circle cx="93.0" cy="213.0" r="0.9" fill="#0089fc"/>
<circle cx="91.6" cy="217.0" r="0.9" fill="#9a48dc"/>
<circle cx="104.4" cy="216.0" r="0.9" fill="#ff0060"/>
<circle cx="91.0" cy="219.0" r="0.9" fill="#9a48dc"/>
<circle cx="91.0" cy="221.6" r="0.9" fill="#9a48dc"/>
<circle cx="95.6" cy="218.6" r="0.9" fill="#0089fc"/>
<circle cx="99.6" cy="220.4" r="0.9" fill="#0089fc"/>
<circle cx="104.0" cy="219.6" r="0.9" fill="#ff0060"/>
<circle cx="101.0" cy="221.6" r="0.9" fill="#ff0060"/>
<circle cx="105.0" cy="219.0" r="0.9" fill="#ff0060"/>
<circle cx="103.6" cy="220.0" r="0.9" fill="#9a48dc"/>
<circle cx="110.0" cy="223.0" r="0.9" fill="#ff0060"/>
<circle cx="107.0" cy="224.4" r="0.9" fill="#ff0060"/>
<circle cx="114.0" cy="224.0" r="0.9" fill="#9a48dc"/>
<circle cx="102.0" cy="229.6" r="0.9" fill="#ff0060"/>
<circle cx="96.0" cy="235.6" r="0.9" fill="#ff0060"/>
<circle cx="100.0" cy="238.0" r="0.9" fill="#9a48dc"/>
<circle cx="99.0" cy="238.4" r="0.9" fill="#0089fc"/>
<circle cx="105.0" cy="207.6" r="0.9" fill="#0089fc"/>
<circle cx="119.0" cy="208.4" r="0.9" fill="#ff0060"/>
<circle cx="124.0" cy="211.0" r="0.9" fill="#0089fc"/>
<circle cx="133.0" cy="211.0" r="0.9" fill="#0089fc"/>
<circle cx="139.0" cy="211.0" r="0.9" fill="#0089fc"/>
<circle cx="131.6" cy="213.0" r="0.9" fill="#0089fc"/>
<circle cx="141.6" cy="212.4" r="0.9" fill="#0089fc"/>
<circle cx="125.0" cy="215.0" r="0.9" fill="#0089fc"/>
<circle cx="126.4" cy="214.4" r="0.9" fill="#0089fc"/>
<circle cx="122.2" cy="217.1" r="0.9" fill="#dc2cc0"/>
<circle cx="94.3" cy="207.4" r="0.9" fill="#ff0060"/>
<circle cx="107.7" cy="211.7" r="0.9" fill="#0089fc"/>
<circle cx="123.6" cy="211.7" r="0.9" fill="#0089fc"/>
<circle cx="97.6" cy="208.3" r="0.9" fill="#ff0060"/>
<circle cx="101.8" cy="212.6" r="0.9" fill="#ff0060"/>
<circle cx="118.8" cy="212.8" r="0.9" fill="#ff0060"/>
<circle cx="118.5" cy="211.9" r="0.9" fill="#9a48dc"/>
<circle cx="111.4" cy="212.3" r="0.9" fill="#dc2cc0"/>
<circle cx="106.7" cy="211.2" r="0.9" fill="#0089fc"/>
<circle cx="110.4" cy="211.3" r="0.9" fill="#ff0060"/>
<circle cx="108.6" cy="213.4" r="0.9" fill="#dc2cc0"/>
<circle cx="117.0" cy="212.9" r="0.9" fill="#ff0060"/>
<circle cx="102.7" cy="210.5" r="0.9" fill="#ff0060"/>
<circle cx="115.4" cy="214.4" r="0.9" fill="#0089fc"/>
<circle cx="110.7" cy="213.3" r="0.9" fill="#0089fc"/>
<circle cx="106.9" cy="211.6" r="0.9" fill="#ff0060"/>
<circle cx="105.4" cy="212.0" r="0.9" fill="#0089fc"/>
<circle cx="119.8" cy="214.8" r="0.9" fill="#0089fc"/>
<circle cx="106.1" cy="210.5" r="0.9" fill="#0089fc"/>
<circle cx="105.4" cy="211.8" r="0.9" fill="#0089fc"/>
<circle cx="96.7" cy="209.6" r="0.9" fill="#ff0060"/>
<circle cx="97.6" cy="208.4" r="0.9" fill="#dc2cc0"/>
<circle cx="109.8" cy="211.1" r="0.9" fill="#ff0060"/>
<circle cx="96.6" cy="210.9" r="0.9" fill="#0089fc"/>
<circle cx="124.6" cy="215.0" r="0.9" fill="#9a48dc"/>
<circle cx="121.9" cy="214.4" r="0.9" fill="#ff0060"/>
<circle cx="102.4" cy="214.0" r="0.9" fill="#ff0060"/>
<circle cx="123.9" cy="212.6" r="0.9" fill="#0089fc"/>
<circle cx="96.7" cy="209.2" r="0.9" fill="#ff0060"/>
<circle cx="102.5" cy="209.5" r="0.9" fill="#0089fc"/>
<circle cx="124.0" cy="213.5" r="0.9" fill="#0089fc"/>
<circle cx="116.5" cy="214.4" r="0.9" fill="#9a48dc"/>
<circle cx="124.4" cy="216.0" r="0.9" fill="#9a48dc"/>
<circle cx="91.1" cy="207.3" r="0.9" fill="#0089fc"/>
<circle cx="123.5" cy="212.3" r="0.9" fill="#0089fc"/>
<circle cx="110.5" cy="212.5" r="0.9" fill="#0089fc"/>
<circle cx="116.3" cy="214.3" r="0.9" fill="#0089fc"/>
<circle cx="122.0" cy="214.2" r="0.9" fill="#ff0060"/>
<circle cx="115.8" cy="213.2" r="0.9" fill="#ff0060"/>
<circle cx="115.9" cy="212.5" r="0.9" fill="#0089fc"/>
<circle cx="100.6" cy="207.8" r="0.9" fill="#9a48dc"/>
<circle cx="95.5" cy="209.2" r="0.9" fill="#ff0060"/>
<circle cx="101.5" cy="213.2" r="0.9" fill="#0089fc"/>
<circle cx="96.5" cy="208.0" r="0.9" fill="#ff0060"/>
<circle cx="109.7" cy="212.0" r="0.9" fill="#9a48dc"/>
<circle cx="98.1" cy="210.6" r="0.9" fill="#9a48dc"/>
<circle cx="98.8" cy="210.0" r="0.9" fill="#0089fc"/>
<circle cx="108.1" cy="210.7" r="0.9" fill="#ff0060"/>
<circle cx="126.7" cy="214.4" r="0.9" fill="#ff0060"/>
<circle cx="113.7" cy="213.3" r="0.9" fill="#0089fc"/>
<circle cx="114.5" cy="214.8" r="0.9" fill="#0089fc"/>
<circle cx="108.3" cy="212.4" r="0.9" fill="#ff0060"/>
<circle cx="105.6" cy="211.2" r="0.9" fill="#ff0060"/>
<circle cx="106.1" cy="210.2" r="0.9" fill="#0089fc"/>
<circle cx="96.6" cy="208.3" r="0.9" fill="#9a48dc"/>
<circle cx="123.7" cy="216.2" r="0.9" fill="#0089fc"/>
<circle cx="93.6" cy="210.3" r="0.9" fill="#0089fc"/>
<circle cx="95.6" cy="209.0" r="0.9" fill="#ff0060"/>
<circle cx="102.1" cy="207.3" r="0.9" fill="#0089fc"/>
<circle cx="104.4" cy="214.9" r="0.9" fill="#ff0060"/>
<circle cx="102.1" cy="209.4" r="0.9" fill="#0089fc"/>
<circle cx="103.2" cy="208.9" r="0.9" fill="#dc2cc0"/>
<circle cx="125.8" cy="216.1" r="0.9" fill="#ff0060"/>
<circle cx="111.2" cy="211.2" r="0.9" fill="#0089fc"/>
<circle cx="120.6" cy="213.0" r="0.9" fill="#ff0060"/>
<circle cx="124.3" cy="217.5" r="0.9" fill="#dc2cc0"/>
<circle cx="103.4" cy="210.2" r="0.9" fill="#ff0060"/>
<circle cx="104.0" cy="212.6" r="0.9" fill="#9a48dc"/>
<circle cx="97.0" cy="211.8" r="0.9" fill="#ff0060"/>
<circle cx="106.3" cy="210.3" r="0.9" fill="#9a48dc"/>
<circle cx="106.2" cy="210.8" r="0.9" fill="#ff0060"/>
<circle cx="102.7" cy="211.2" r="0.9" fill="#0089fc"/>
<circle cx="126.2" cy="214.8" r="0.9" fill="#ff0060"/>
<circle cx="106.2" cy="210.2" r="0.9" fill="#dc2cc0"/>
<circle cx="111.3" cy="210.1" r="0.9" fill="#0089fc"/>
<circle cx="102.5" cy="210.4" r="0.9" fill="#dc2cc0"/>
<circle cx="101.7" cy="211.2" r="0.9" fill="#ff0060"/>
<circle cx="99.7" cy="208.5" r="0.9" fill="#0089fc"/>
<circle cx="96.0" cy="210.3" r="0.9" fill="#9a48dc"/>
<path d="M219.40 144.40V243.40H326.00" fill="none" stroke="#7c7c7c" stroke-width="0.7"/>
<text x="216.70" y="153.87" font-size="10.5" text-anchor="end" style="">0.3</text>
<text x="216.70" y="172.17" font-size="10.5" text-anchor="end" style="">0.2</text>
<text x="216.70" y="190.47" font-size="10.5" text-anchor="end" style="">0.1</text>
<text x="216.70" y="208.77" font-size="10.5" text-anchor="end" style="">0.0</text>
<text x="216.70" y="227.07" font-size="10.5" text-anchor="end" style="">−0.1</text>
<text x="216.70" y="245.37" font-size="10.5" text-anchor="end" style="">−0.2</text>
<text x="233.00" y="254.97" font-size="10.5" text-anchor="middle" style="">20</text>
<text x="257.30" y="254.97" font-size="10.5" text-anchor="middle" style="">40</text>
<text x="281.60" y="254.97" font-size="10.5" text-anchor="middle" style="">60</text>
<text x="305.90" y="254.97" font-size="10.5" text-anchor="middle" style="">80</text>
<path d="M217.80 150.40H219.40M217.80 168.70H219.40M217.80 187.00H219.40M217.80 205.30H219.40M217.80 223.60H219.40M217.80 241.90H219.40M233.00 243.40V245.00M257.30 243.40V245.00M281.60 243.40V245.00M305.90 243.40V245.00" stroke="#c4c4c4" stroke-width="0.6" fill="none"/>
<rect x="332.15" y="144.20" width="1.8" height="99.40" fill="url(#g)"/>
<text x="337.80" y="160.87" font-size="10.5" text-anchor="start" style="">7</text>
<text x="337.80" y="177.77" font-size="10.5" text-anchor="start" style="">6</text>
<text x="337.80" y="194.66" font-size="10.5" text-anchor="start" style="">5</text>
<text x="337.80" y="211.56" font-size="10.5" text-anchor="start" style="">4</text>
<text x="337.80" y="228.47" font-size="10.5" text-anchor="start" style="">3</text>
<text x="337.80" y="245.37" font-size="10.5" text-anchor="start" style="">2</text>
<text x="270.00" y="263.00" font-size="13" text-anchor="middle" style="" id="ex"><tspan font-style="italic" font-size="14">f</tspan><tspan font-style="italic" font-size="10.5" dy="2.6" dx="1.2">lc</tspan></text>
<text x="269.40" y="278.00" font-size="11" text-anchor="middle" style="" id="ec">(e)</text>
<text x="193.50" y="190.50" font-size="10.7" text-anchor="middle" style="" transform="rotate(-90 193.50 190.50)" id="ey">SHAP value for <tspan font-style="italic" font-size="14">f</tspan><tspan font-style="italic" font-size="10.5" dy="2.6" dx="1.2">lc</tspan></text>
<text x="355.80" y="196.50" font-size="13" text-anchor="middle" style="" transform="rotate(-90 355.80 196.50)" id="eb"><tspan font-style="italic" letter-spacing="1">a/d</tspan></text>
<circle cx="225.0" cy="238.0" r="0.9" fill="#0089fc"/>
<circle cx="223.6" cy="229.0" r="0.9" fill="#ff0060"/>
<circle cx="224.4" cy="225.6" r="0.9" fill="#ff0060"/>
<circle cx="226.6" cy="227.0" r="0.9" fill="#0089fc"/>
<circle cx="225.6" cy="221.0" r="0.9" fill="#0089fc"/>
<circle cx="227.0" cy="222.0" r="0.9" fill="#0089fc"/>
<circle cx="225.0" cy="223.0" r="0.9" fill="#ff0060"/>
<circle cx="232.0" cy="225.0" r="0.9" fill="#0089fc"/>
<circle cx="232.4" cy="226.4" r="0.9" fill="#9a48dc"/>
<circle cx="230.0" cy="220.0" r="0.9" fill="#ff0060"/>
<circle cx="231.0" cy="223.0" r="0.9" fill="#ff0060"/>
<circle cx="239.0" cy="221.6" r="0.9" fill="#9a48dc"/>
<circle cx="240.0" cy="223.0" r="0.9" fill="#9a48dc"/>
<circle cx="238.0" cy="224.0" r="0.9" fill="#ff0060"/>
<circle cx="303.0" cy="148.4" r="0.9" fill="#9a48dc"/>
<circle cx="303.6" cy="154.0" r="0.9" fill="#9a48dc"/>
<circle cx="302.4" cy="159.6" r="0.9" fill="#9a48dc"/>
<circle cx="304.6" cy="158.6" r="0.9" fill="#dc2cc0"/>
<circle cx="300.0" cy="175.6" r="0.9" fill="#9a48dc"/>
<circle cx="295.0" cy="180.0" r="0.9" fill="#9a48dc"/>
<circle cx="320.0" cy="177.0" r="0.9" fill="#ff0060"/>
<circle cx="321.0" cy="178.0" r="0.9" fill="#ff0060"/>
<circle cx="312.0" cy="184.4" r="0.9" fill="#ff0060"/>
<circle cx="249.0" cy="186.4" r="0.9" fill="#ff0060"/>
<circle cx="250.0" cy="186.8" r="0.9" fill="#ff0060"/>
<circle cx="257.0" cy="188.0" r="0.9" fill="#9a48dc"/>
<circle cx="264.6" cy="186.0" r="0.9" fill="#9a48dc"/>
<circle cx="262.4" cy="188.0" r="0.9" fill="#0089fc"/>
<circle cx="257.4" cy="192.4" r="0.9" fill="#0089fc"/>
<circle cx="253.4" cy="191.6" r="0.9" fill="#9a48dc"/>
<circle cx="251.0" cy="193.0" r="0.9" fill="#9a48dc"/>
<circle cx="250.0" cy="193.6" r="0.9" fill="#9a48dc"/>
<circle cx="261.4" cy="194.4" r="0.9" fill="#0089fc"/>
<circle cx="252.0" cy="195.0" r="0.9" fill="#9a48dc"/>
<circle cx="250.0" cy="203.0" r="0.9" fill="#0089fc"/>
<circle cx="251.0" cy="207.6" r="0.9" fill="#0089fc"/>
<circle cx="258.0" cy="204.4" r="0.9" fill="#0089fc"/>
<circle cx="259.0" cy="206.0" r="0.9" fill="#0089fc"/>
<circle cx="258.0" cy="193.0" r="0.9" fill="#0089fc"/>
<circle cx="261.0" cy="194.0" r="0.9" fill="#0089fc"/>
<circle cx="233.4" cy="211.9" r="0.9" fill="#ff0060"/>
<circle cx="226.0" cy="220.7" r="0.9" fill="#0089fc"/>
<circle cx="266.0" cy="194.4" r="0.9" fill="#ff0060"/>
<circle cx="224.8" cy="220.5" r="0.9" fill="#ff0060"/>
<circle cx="264.0" cy="196.1" r="0.9" fill="#0089fc"/>
<circle cx="250.8" cy="201.0" r="0.9" fill="#ff0060"/>
<circle cx="226.9" cy="218.5" r="0.9" fill="#ff0060"/>
<circle cx="226.0" cy="223.7" r="0.9" fill="#dc2cc0"/>
<circle cx="225.9" cy="219.0" r="0.9" fill="#ff0060"/>
<circle cx="260.0" cy="198.5" r="0.9" fill="#dc2cc0"/>
<circle cx="228.8" cy="221.8" r="0.9" fill="#0089fc"/>
<circle cx="228.0" cy="223.2" r="0.9" fill="#ff0060"/>
<circle cx="253.0" cy="203.4" r="0.9" fill="#dc2cc0"/>
<circle cx="240.5" cy="210.0" r="0.9" fill="#ff0060"/>
<circle cx="235.0" cy="210.6" r="0.9" fill="#9a48dc"/>
<circle cx="225.8" cy="220.7" r="0.9" fill="#ff0060"/>
<circle cx="237.4" cy="211.5" r="0.9" fill="#9a48dc"/>
<circle cx="262.5" cy="196.1" r="0.9" fill="#9a48dc"/>
<circle cx="247.9" cy="206.8" r="0.9" fill="#ff0060"/>
<circle cx="223.8" cy="223.4" r="0.9" fill="#9a48dc"/>
<circle cx="227.0" cy="219.5" r="0.9" fill="#ff0060"/>
<circle cx="229.3" cy="220.4" r="0.9" fill="#ff0060"/>
<circle cx="226.2" cy="220.1" r="0.9" fill="#ff0060"/>
<circle cx="235.7" cy="211.2" r="0.9" fill="#0089fc"/>
<circle cx="234.8" cy="209.6" r="0.9" fill="#ff0060"/>
<circle cx="263.0" cy="191.9" r="0.9" fill="#ff0060"/>
<circle cx="253.5" cy="200.7" r="0.9" fill="#ff0060"/>
<circle cx="261.8" cy="198.4" r="0.9" fill="#9a48dc"/>
<circle cx="266.6" cy="194.5" r="0.9" fill="#ff0060"/>
<circle cx="232.9" cy="209.8" r="0.9" fill="#ff0060"/>
<circle cx="264.8" cy="192.8" r="0.9" fill="#9a48dc"/>
<circle cx="227.5" cy="218.1" r="0.9" fill="#dc2cc0"/>
<circle cx="252.5" cy="203.9" r="0.9" fill="#9a48dc"/>
<circle cx="252.1" cy="203.0" r="0.9" fill="#ff0060"/>
<circle cx="226.4" cy="224.7" r="0.9" fill="#0089fc"/>
<circle cx="258.8" cy="197.5" r="0.9" fill="#ff0060"/>
<circle cx="260.2" cy="198.2" r="0.9" fill="#9a48dc"/>
<circle cx="242.8" cy="208.9" r="0.9" fill="#ff0060"/>
<circle cx="228.1" cy="226.2" r="0.9" fill="#9a48dc"/>
<circle cx="258.8" cy="199.0" r="0.9" fill="#9a48dc"/>
<circle cx="253.1" cy="202.0" r="0.9" fill="#ff0060"/>
<circle cx="268.0" cy="187.2" r="0.9" fill="#ff0060"/>
<circle cx="229.9" cy="217.8" r="0.9" fill="#ff0060"/>
<circle cx="254.6" cy="200.3" r="0.9" fill="#9a48dc"/>
<circle cx="250.9" cy="205.2" r="0.9" fill="#dc2cc0"/>
<circle cx="263.8" cy="194.7" r="0.9" fill="#0089fc"/>
<circle cx="231.7" cy="217.7" r="0.9" fill="#9a48dc"/>
<circle cx="239.3" cy="211.4" r="0.9" fill="#dc2cc0"/>
<circle cx="255.0" cy="201.1" r="0.9" fill="#dc2cc0"/>
<circle cx="226.9" cy="219.1" r="0.9" fill="#9a48dc"/>
<circle cx="265.7" cy="192.5" r="0.9" fill="#ff0060"/>
<circle cx="231.2" cy="212.8" r="0.9" fill="#9a48dc"/>
<circle cx="235.6" cy="212.9" r="0.9" fill="#9a48dc"/>
<circle cx="237.7" cy="211.5" r="0.9" fill="#ff0060"/>
<circle cx="234.2" cy="211.7" r="0.9" fill="#9a48dc"/>
<circle cx="257.1" cy="199.1" r="0.9" fill="#dc2cc0"/>
<circle cx="249.9" cy="204.3" r="0.9" fill="#ff0060"/>
<circle cx="229.4" cy="221.5" r="0.9" fill="#ff0060"/>
<circle cx="225.8" cy="221.8" r="0.9" fill="#9a48dc"/>
<circle cx="246.1" cy="206.2" r="0.9" fill="#ff0060"/>
<circle cx="230.7" cy="214.1" r="0.9" fill="#ff0060"/>
<circle cx="226.0" cy="221.5" r="0.9" fill="#0089fc"/>
<circle cx="226.4" cy="217.6" r="0.9" fill="#dc2cc0"/>
<circle cx="240.3" cy="208.9" r="0.9" fill="#9a48dc"/>
<circle cx="248.7" cy="202.7" r="0.9" fill="#0089fc"/>
<circle cx="233.7" cy="213.4" r="0.9" fill="#ff0060"/>
<circle cx="240.5" cy="209.2" r="0.9" fill="#ff0060"/>
<circle cx="222.7" cy="223.0" r="0.9" fill="#ff0060"/>
<circle cx="239.1" cy="208.0" r="0.9" fill="#9a48dc"/>
<circle cx="261.2" cy="199.2" r="0.9" fill="#dc2cc0"/>
<circle cx="253.6" cy="203.0" r="0.9" fill="#0089fc"/>
<circle cx="258.5" cy="201.0" r="0.9" fill="#0089fc"/>
<circle cx="227.1" cy="220.2" r="0.9" fill="#ff0060"/>
<circle cx="233.5" cy="212.5" r="0.9" fill="#dc2cc0"/>
<circle cx="255.9" cy="203.4" r="0.9" fill="#9a48dc"/>
<circle cx="257.5" cy="199.1" r="0.9" fill="#dc2cc0"/>
<circle cx="253.3" cy="202.5" r="0.9" fill="#ff0060"/>
<circle cx="232.3" cy="215.0" r="0.9" fill="#ff0060"/>
<circle cx="266.2" cy="191.0" r="0.9" fill="#9a48dc"/>
<circle cx="237.0" cy="215.0" r="0.9" fill="#0089fc"/>
<circle cx="243.7" cy="206.7" r="0.9" fill="#ff0060"/>
<circle cx="241.8" cy="205.2" r="0.9" fill="#dc2cc0"/>
<circle cx="258.4" cy="200.2" r="0.9" fill="#ff0060"/>
<circle cx="230.1" cy="218.3" r="0.9" fill="#ff0060"/>
<circle cx="237.8" cy="210.7" r="0.9" fill="#ff0060"/>
<circle cx="229.1" cy="218.0" r="0.9" fill="#ff0060"/>
<circle cx="258.8" cy="201.4" r="0.9" fill="#9a48dc"/>
<circle cx="232.9" cy="215.2" r="0.9" fill="#ff0060"/>
<circle cx="263.7" cy="192.3" r="0.9" fill="#9a48dc"/>
<circle cx="228.5" cy="220.9" r="0.9" fill="#ff0060"/>
<circle cx="268.1" cy="190.9" r="0.9" fill="#ff0060"/>
<circle cx="260.6" cy="196.2" r="0.9" fill="#ff0060"/>
<circle cx="229.6" cy="216.1" r="0.9" fill="#dc2cc0"/>
<circle cx="236.1" cy="211.3" r="0.9" fill="#dc2cc0"/>
<circle cx="267.6" cy="194.3" r="0.9" fill="#9a48dc"/>
<circle cx="257.7" cy="198.0" r="0.9" fill="#dc2cc0"/>
<circle cx="252.5" cy="203.7" r="0.9" fill="#9a48dc"/>
<circle cx="247.3" cy="206.9" r="0.9" fill="#ff0060"/>
<circle cx="247.7" cy="209.0" r="0.9" fill="#ff0060"/>
<circle cx="248.8" cy="206.4" r="0.9" fill="#ff0060"/>
<circle cx="234.9" cy="211.5" r="0.9" fill="#9a48dc"/>
<circle cx="242.6" cy="206.5" r="0.9" fill="#ff0060"/>
<circle cx="264.6" cy="189.2" r="0.9" fill="#dc2cc0"/>
<circle cx="250.5" cy="207.3" r="0.9" fill="#ff0060"/>
<circle cx="246.5" cy="207.9" r="0.9" fill="#ff0060"/>
<circle cx="246.3" cy="206.2" r="0.9" fill="#ff0060"/>
<circle cx="251.1" cy="204.6" r="0.9" fill="#9a48dc"/>
<circle cx="264.1" cy="192.9" r="0.9" fill="#ff0060"/>
<circle cx="238.5" cy="211.5" r="0.9" fill="#ff0060"/>
<circle cx="239.9" cy="208.4" r="0.9" fill="#0089fc"/>
<circle cx="227.5" cy="217.4" r="0.9" fill="#ff0060"/>
<circle cx="237.4" cy="211.2" r="0.9" fill="#0089fc"/>
<circle cx="253.5" cy="201.1" r="0.9" fill="#0089fc"/>
<circle cx="254.9" cy="202.9" r="0.9" fill="#9a48dc"/>
<circle cx="243.9" cy="206.1" r="0.9" fill="#ff0060"/>
<circle cx="234.2" cy="209.4" r="0.9" fill="#ff0060"/>
<circle cx="258.5" cy="200.2" r="0.9" fill="#9a48dc"/>
<circle cx="229.7" cy="218.5" r="0.9" fill="#ff0060"/>
<circle cx="229.8" cy="216.2" r="0.9" fill="#ff0060"/>
<circle cx="268.3" cy="188.2" r="0.9" fill="#9a48dc"/>
<circle cx="236.4" cy="215.4" r="0.9" fill="#dc2cc0"/>
<circle cx="231.5" cy="215.9" r="0.9" fill="#9a48dc"/>
<circle cx="261.7" cy="196.8" r="0.9" fill="#dc2cc0"/>
<circle cx="244.4" cy="209.0" r="0.9" fill="#9a48dc"/>
<circle cx="225.3" cy="228.5" r="0.9" fill="#9a48dc"/>
<circle cx="261.3" cy="194.1" r="0.9" fill="#ff0060"/>
<circle cx="253.6" cy="200.2" r="0.9" fill="#9a48dc"/>
<circle cx="233.0" cy="209.5" r="0.9" fill="#ff0060"/>
<circle cx="259.0" cy="196.2" r="0.9" fill="#dc2cc0"/>
<circle cx="262.1" cy="196.5" r="0.9" fill="#9a48dc"/>
<circle cx="244.9" cy="202.4" r="0.9" fill="#9a48dc"/>
<circle cx="258.1" cy="200.4" r="0.9" fill="#ff0060"/>
<circle cx="225.5" cy="222.9" r="0.9" fill="#ff0060"/>
<circle cx="247.5" cy="207.2" r="0.9" fill="#ff0060"/>
<circle cx="254.6" cy="200.6" r="0.9" fill="#9a48dc"/>
<circle cx="243.9" cy="208.1" r="0.9" fill="#ff0060"/>
<circle cx="268.6" cy="193.0" r="0.9" fill="#ff0060"/>
<circle cx="255.6" cy="198.8" r="0.9" fill="#dc2cc0"/>
<circle cx="234.2" cy="212.9" r="0.9" fill="#9a48dc"/>
<circle cx="263.8" cy="191.9" r="0.9" fill="#dc2cc0"/>
<circle cx="228.0" cy="221.7" r="0.9" fill="#ff0060"/>
<circle cx="269.5" cy="190.2" r="0.9" fill="#ff0060"/>
<circle cx="229.4" cy="215.5" r="0.9" fill="#ff0060"/>
<circle cx="242.9" cy="206.3" r="0.9" fill="#ff0060"/>
<circle cx="236.6" cy="207.4" r="0.9" fill="#9a48dc"/>
<circle cx="243.2" cy="209.2" r="0.9" fill="#ff0060"/>
<circle cx="257.2" cy="199.6" r="0.9" fill="#ff0060"/>
<circle cx="233.5" cy="214.0" r="0.9" fill="#9a48dc"/>
<circle cx="252.2" cy="202.2" r="0.9" fill="#dc2cc0"/>
<circle cx="237.6" cy="208.6" r="0.9" fill="#0089fc"/>
<circle cx="240.4" cy="205.7" r="0.9" fill="#9a48dc"/>
<circle cx="229.4" cy="219.6" r="0.9" fill="#ff0060"/>
<circle cx="263.1" cy="195.3" r="0.9" fill="#ff0060"/>
<circle cx="245.9" cy="207.5" r="0.9" fill="#ff0060"/>
<circle cx="232.8" cy="216.1" r="0.9" fill="#ff0060"/>
<circle cx="249.8" cy="203.4" r="0.9" fill="#0089fc"/>
<circle cx="239.1" cy="213.7" r="0.9" fill="#ff0060"/>
<circle cx="249.6" cy="198.7" r="0.9" fill="#ff0060"/>
<circle cx="255.5" cy="200.0" r="0.9" fill="#dc2cc0"/>
<circle cx="230.9" cy="213.7" r="0.9" fill="#0089fc"/>
<circle cx="254.4" cy="202.6" r="0.9" fill="#9a48dc"/>
<circle cx="233.7" cy="216.1" r="0.9" fill="#ff0060"/>
<circle cx="246.0" cy="204.9" r="0.9" fill="#ff0060"/>
<circle cx="242.8" cy="205.3" r="0.9" fill="#ff0060"/>
<circle cx="229.2" cy="220.1" r="0.9" fill="#0089fc"/>
<circle cx="254.3" cy="200.6" r="0.9" fill="#9a48dc"/>
<circle cx="268.1" cy="189.4" r="0.9" fill="#9a48dc"/>
<circle cx="253.8" cy="203.4" r="0.9" fill="#9a48dc"/>
<circle cx="261.7" cy="199.1" r="0.9" fill="#ff0060"/>
<circle cx="225.7" cy="220.8" r="0.9" fill="#9a48dc"/>
<circle cx="282.3" cy="191.2" r="0.9" fill="#ff0060"/>
<circle cx="285.5" cy="190.5" r="0.9" fill="#ff0060"/>
<circle cx="294.8" cy="193.9" r="0.9" fill="#ff0060"/>
<circle cx="287.5" cy="190.0" r="0.9" fill="#ff0060"/>
<circle cx="297.1" cy="193.0" r="0.9" fill="#ff0060"/>
<circle cx="284.1" cy="190.6" r="0.9" fill="#ff0060"/>
<circle cx="295.1" cy="192.8" r="0.9" fill="#ff0060"/>
<circle cx="290.6" cy="191.3" r="0.9" fill="#ff0060"/>
<circle cx="282.0" cy="191.4" r="0.9" fill="#ff0060"/>
<circle cx="295.0" cy="192.1" r="0.9" fill="#ff0060"/>
<circle cx="291.5" cy="190.8" r="0.9" fill="#ff0060"/>
<circle cx="284.2" cy="190.1" r="0.9" fill="#ff0060"/>
<circle cx="282.7" cy="191.8" r="0.9" fill="#ff0060"/>
<circle cx="296.3" cy="192.9" r="0.9" fill="#ff0060"/>
<circle cx="294.0" cy="192.4" r="0.9" fill="#ff0060"/>
<circle cx="284.1" cy="191.0" r="0.9" fill="#ff0060"/>
<circle cx="288.5" cy="190.8" r="0.9" fill="#ff0060"/>
<circle cx="291.2" cy="191.0" r="0.9" fill="#ff0060"/>
<circle cx="291.3" cy="190.8" r="0.9" fill="#ff0060"/>
<circle cx="288.8" cy="190.9" r="0.9" fill="#ff0060"/>
<circle cx="284.5" cy="190.8" r="0.9" fill="#ff0060"/>
<circle cx="280.4" cy="190.8" r="0.9" fill="#ff0060"/>
<path d="M395.60 143.00V241.60H501.00" fill="none" stroke="#7c7c7c" stroke-width="0.7"/>
<text x="394.00" y="158.87" font-size="10.5" text-anchor="end" style="">0.05</text>
<text x="394.00" y="177.37" font-size="10.5" text-anchor="end" style="">0.00</text>
<text x="394.00" y="195.87" font-size="10.5" text-anchor="end" style="">−0.05</text>
<text x="394.00" y="214.37" font-size="10.5" text-anchor="end" style="">−0.10</text>
<text x="394.00" y="232.87" font-size="10.5" text-anchor="end" style="">−0.15</text>
<text x="411.50" y="253.27" font-size="10.5" text-anchor="middle" style="">0.1</text>
<text x="432.05" y="253.27" font-size="10.5" text-anchor="middle" style="">0.2</text>
<text x="452.60" y="253.27" font-size="10.5" text-anchor="middle" style="">0.3</text>
<text x="473.15" y="253.27" font-size="10.5" text-anchor="middle" style="">0.4</text>
<text x="493.70" y="253.27" font-size="10.5" text-anchor="middle" style="">0.5</text>
<path d="M394.00 155.40H395.60M394.00 173.90H395.60M394.00 192.40H395.60M394.00 210.90H395.60M394.00 229.40H395.60M411.50 241.60V243.20M432.05 241.60V243.20M452.60 241.60V243.20M473.15 241.60V243.20M493.70 241.60V243.20" stroke="#c4c4c4" stroke-width="0.6" fill="none"/>
<rect x="507.95" y="142.40" width="1.8" height="99.50" fill="url(#g)"/>
<text x="514.00" y="161.37" font-size="10.5" text-anchor="start" style="">650</text>
<text x="514.00" y="176.97" font-size="10.5" text-anchor="start" style="">600</text>
<text x="514.00" y="192.56" font-size="10.5" text-anchor="start" style="">550</text>
<text x="514.00" y="208.16" font-size="10.5" text-anchor="start" style="">500</text>
<text x="514.00" y="223.77" font-size="10.5" text-anchor="start" style="">450</text>
<text x="514.00" y="239.37" font-size="10.5" text-anchor="start" style="">400</text>
<text x="451.00" y="264.00" font-size="13" text-anchor="middle" style="" id="fx"><tspan font-style="italic" font-size="13" letter-spacing="1.1">c/b</tspan><tspan font-style="italic" font-size="10.5" dy="2.5">0</tspan></text>
<text x="452.60" y="278.20" font-size="11" text-anchor="middle" style="" id="fc">(f)</text>
<text x="365.40" y="193.20" font-size="10.7" text-anchor="middle" style="" transform="rotate(-90 365.40 193.20)" id="fy">SHAP value for <tspan font-style="italic" font-size="13" letter-spacing="1.1">c/b</tspan><tspan font-style="italic" font-size="10.5" dy="2.5">0</tspan></text>
<text x="543.00" y="195.30" font-size="13" text-anchor="middle" style="" transform="rotate(-90 543.00 195.30)" id="fb"><tspan font-style="italic" font-size="14">f</tspan><tspan font-style="italic" font-size="12.5" dy="2.8" dx="0.8">y</tspan></text>
<circle cx="424.4" cy="147.0" r="0.9" fill="#9a48dc"/>
<circle cx="424.4" cy="152.0" r="0.9" fill="#9a48dc"/>
<circle cx="424.0" cy="156.0" r="0.9" fill="#ff0060"/>
<circle cx="425.6" cy="157.0" r="0.9" fill="#9a48dc"/>
<circle cx="497.0" cy="162.0" r="0.9" fill="#9a48dc"/>
<circle cx="406.4" cy="202.0" r="0.9" fill="#0089fc"/>
<circle cx="413.0" cy="203.0" r="0.9" fill="#0089fc"/>
<circle cx="416.0" cy="202.4" r="0.9" fill="#0089fc"/>
<circle cx="416.4" cy="203.6" r="0.9" fill="#0089fc"/>
<circle cx="408.4" cy="216.4" r="0.9" fill="#ff0060"/>
<circle cx="410.6" cy="228.6" r="0.9" fill="#dc2cc0"/>
<circle cx="411.6" cy="235.0" r="0.9" fill="#dc2cc0"/>
<circle cx="411.6" cy="237.0" r="0.9" fill="#dc2cc0"/>
<circle cx="400.0" cy="236.4" r="0.9" fill="#0089fc"/>
<circle cx="412.0" cy="194.0" r="0.9" fill="#ff0060"/>
<circle cx="411.6" cy="197.0" r="0.9" fill="#ff0060"/>
<circle cx="418.0" cy="194.0" r="0.9" fill="#ff0060"/>
<circle cx="418.0" cy="196.0" r="0.9" fill="#ff0060"/>
<circle cx="413.0" cy="191.0" r="0.9" fill="#0089fc"/>
<circle cx="416.0" cy="192.0" r="0.9" fill="#0089fc"/>
<circle cx="415.6" cy="198.0" r="0.9" fill="#9a48dc"/>
<circle cx="415.6" cy="200.0" r="0.9" fill="#9a48dc"/>
<circle cx="426.0" cy="167.3" r="0.9" fill="#ff0060"/>
<circle cx="418.9" cy="186.7" r="0.9" fill="#ff0060"/>
<circle cx="415.2" cy="193.7" r="0.9" fill="#9a48dc"/>
<circle cx="417.1" cy="189.3" r="0.9" fill="#9a48dc"/>
<circle cx="419.2" cy="178.6" r="0.9" fill="#ff0060"/>
<circle cx="416.5" cy="192.0" r="0.9" fill="#ff0060"/>
<circle cx="424.6" cy="156.8" r="0.9" fill="#ff0060"/>
<circle cx="421.5" cy="173.7" r="0.9" fill="#dc2cc0"/>
<circle cx="416.9" cy="188.4" r="0.9" fill="#0089fc"/>
<circle cx="418.2" cy="185.2" r="0.9" fill="#dc2cc0"/>
<circle cx="426.3" cy="162.4" r="0.9" fill="#dc2cc0"/>
<circle cx="420.5" cy="174.7" r="0.9" fill="#ff0060"/>
<circle cx="417.4" cy="186.7" r="0.9" fill="#ff0060"/>
<circle cx="419.0" cy="179.3" r="0.9" fill="#0089fc"/>
<circle cx="421.1" cy="168.2" r="0.9" fill="#dc2cc0"/>
<circle cx="426.5" cy="162.5" r="0.9" fill="#ff0060"/>
<circle cx="421.7" cy="170.2" r="0.9" fill="#ff0060"/>
<circle cx="417.8" cy="188.1" r="0.9" fill="#ff0060"/>
<circle cx="425.4" cy="170.3" r="0.9" fill="#dc2cc0"/>
<circle cx="418.3" cy="191.5" r="0.9" fill="#dc2cc0"/>
<circle cx="417.2" cy="191.0" r="0.9" fill="#dc2cc0"/>
<circle cx="416.4" cy="187.0" r="0.9" fill="#0089fc"/>
<circle cx="423.7" cy="171.5" r="0.9" fill="#dc2cc0"/>
<circle cx="422.4" cy="170.0" r="0.9" fill="#ff0060"/>
<circle cx="424.3" cy="169.9" r="0.9" fill="#9a48dc"/>
<circle cx="425.4" cy="167.9" r="0.9" fill="#dc2cc0"/>
<circle cx="420.9" cy="171.6" r="0.9" fill="#ff0060"/>
<circle cx="418.4" cy="188.3" r="0.9" fill="#ff0060"/>
<circle cx="415.7" cy="190.7" r="0.9" fill="#0089fc"/>
<circle cx="425.6" cy="166.3" r="0.9" fill="#dc2cc0"/>
<circle cx="418.3" cy="185.2" r="0.9" fill="#0089fc"/>
<circle cx="418.6" cy="186.3" r="0.9" fill="#0089fc"/>
<circle cx="423.2" cy="172.7" r="0.9" fill="#dc2cc0"/>
<circle cx="425.6" cy="161.5" r="0.9" fill="#ff0060"/>
<circle cx="421.1" cy="177.2" r="0.9" fill="#dc2cc0"/>
<circle cx="415.9" cy="190.3" r="0.9" fill="#ff0060"/>
<circle cx="416.0" cy="192.8" r="0.9" fill="#0089fc"/>
<circle cx="419.3" cy="183.7" r="0.9" fill="#ff0060"/>
<circle cx="415.8" cy="192.6" r="0.9" fill="#0089fc"/>
<circle cx="426.8" cy="161.8" r="0.9" fill="#dc2cc0"/>
<circle cx="417.3" cy="184.4" r="0.9" fill="#ff0060"/>
<circle cx="415.8" cy="188.0" r="0.9" fill="#9a48dc"/>
<circle cx="415.6" cy="195.1" r="0.9" fill="#9a48dc"/>
<circle cx="426.7" cy="160.8" r="0.9" fill="#ff0060"/>
<circle cx="422.7" cy="177.1" r="0.9" fill="#9a48dc"/>
<circle cx="425.8" cy="166.7" r="0.9" fill="#ff0060"/>
<circle cx="425.5" cy="160.2" r="0.9" fill="#ff0060"/>
<circle cx="423.0" cy="167.5" r="0.9" fill="#dc2cc0"/>
<circle cx="415.7" cy="194.7" r="0.9" fill="#dc2cc0"/>
<circle cx="426.0" cy="160.1" r="0.9" fill="#0089fc"/>
<circle cx="420.3" cy="179.3" r="0.9" fill="#ff0060"/>
<circle cx="421.6" cy="172.3" r="0.9" fill="#0089fc"/>
<circle cx="426.0" cy="165.3" r="0.9" fill="#9a48dc"/>
<circle cx="414.7" cy="191.6" r="0.9" fill="#dc2cc0"/>
<circle cx="426.2" cy="159.0" r="0.9" fill="#0089fc"/>
<circle cx="417.4" cy="189.8" r="0.9" fill="#0089fc"/>
<circle cx="416.4" cy="192.9" r="0.9" fill="#ff0060"/>
<circle cx="419.1" cy="181.6" r="0.9" fill="#dc2cc0"/>
<circle cx="425.6" cy="167.6" r="0.9" fill="#ff0060"/>
<circle cx="426.5" cy="167.1" r="0.9" fill="#0089fc"/>
<circle cx="416.2" cy="191.3" r="0.9" fill="#0089fc"/>
<circle cx="422.2" cy="173.8" r="0.9" fill="#dc2cc0"/>
<circle cx="424.0" cy="168.1" r="0.9" fill="#ff0060"/>
<circle cx="423.7" cy="169.4" r="0.9" fill="#0089fc"/>
<circle cx="426.7" cy="159.1" r="0.9" fill="#ff0060"/>
<circle cx="420.7" cy="178.2" r="0.9" fill="#dc2cc0"/>
<circle cx="423.7" cy="168.5" r="0.9" fill="#ff0060"/>
<circle cx="416.7" cy="192.9" r="0.9" fill="#ff0060"/>
<circle cx="425.5" cy="159.3" r="0.9" fill="#9a48dc"/>
<circle cx="425.8" cy="157.6" r="0.9" fill="#ff0060"/>
<circle cx="422.0" cy="171.4" r="0.9" fill="#ff0060"/>
<circle cx="424.0" cy="166.3" r="0.9" fill="#ff0060"/>
<circle cx="424.8" cy="170.4" r="0.9" fill="#0089fc"/>
<circle cx="418.1" cy="185.8" r="0.9" fill="#ff0060"/>
<circle cx="418.7" cy="187.6" r="0.9" fill="#dc2cc0"/>
<circle cx="424.5" cy="169.8" r="0.9" fill="#9a48dc"/>
<circle cx="420.2" cy="182.3" r="0.9" fill="#ff0060"/>
<circle cx="425.6" cy="159.3" r="0.9" fill="#9a48dc"/>
<circle cx="415.4" cy="191.8" r="0.9" fill="#ff0060"/>
<circle cx="418.1" cy="188.2" r="0.9" fill="#ff0060"/>
<circle cx="421.8" cy="172.3" r="0.9" fill="#9a48dc"/>
<circle cx="425.0" cy="170.0" r="0.9" fill="#ff0060"/>
<circle cx="425.3" cy="157.9" r="0.9" fill="#dc2cc0"/>
<circle cx="424.5" cy="158.0" r="0.9" fill="#0089fc"/>
<circle cx="425.3" cy="161.5" r="0.9" fill="#dc2cc0"/>
<circle cx="416.4" cy="191.8" r="0.9" fill="#0089fc"/>
<circle cx="421.0" cy="178.7" r="0.9" fill="#ff0060"/>
<circle cx="414.6" cy="193.4" r="0.9" fill="#0089fc"/>
<circle cx="418.3" cy="188.6" r="0.9" fill="#ff0060"/>
<circle cx="425.3" cy="167.0" r="0.9" fill="#ff0060"/>
<circle cx="420.7" cy="178.5" r="0.9" fill="#9a48dc"/>
<circle cx="418.5" cy="187.7" r="0.9" fill="#9a48dc"/>
<circle cx="419.0" cy="179.1" r="0.9" fill="#ff0060"/>
<circle cx="423.1" cy="171.3" r="0.9" fill="#ff0060"/>
<circle cx="424.8" cy="162.9" r="0.9" fill="#ff0060"/>
<circle cx="427.2" cy="164.0" r="0.9" fill="#0089fc"/>
<circle cx="420.6" cy="179.4" r="0.9" fill="#0089fc"/>
<circle cx="419.6" cy="176.7" r="0.9" fill="#ff0060"/>
<circle cx="415.2" cy="193.5" r="0.9" fill="#dc2cc0"/>
<circle cx="422.5" cy="181.1" r="0.9" fill="#ff0060"/>
<circle cx="417.8" cy="187.6" r="0.9" fill="#ff0060"/>
<circle cx="419.5" cy="183.3" r="0.9" fill="#ff0060"/>
<circle cx="417.9" cy="188.0" r="0.9" fill="#0089fc"/>
<circle cx="425.6" cy="162.7" r="0.9" fill="#dc2cc0"/>
<circle cx="421.1" cy="172.6" r="0.9" fill="#0089fc"/>
<circle cx="425.6" cy="166.0" r="0.9" fill="#9a48dc"/>
<circle cx="427.1" cy="161.3" r="0.9" fill="#dc2cc0"/>
<circle cx="414.8" cy="195.0" r="0.9" fill="#ff0060"/>
<circle cx="425.2" cy="158.6" r="0.9" fill="#9a48dc"/>
<circle cx="418.8" cy="179.6" r="0.9" fill="#ff0060"/>
<circle cx="420.0" cy="182.5" r="0.9" fill="#0089fc"/>
<circle cx="425.3" cy="167.1" r="0.9" fill="#ff0060"/>
<circle cx="420.6" cy="183.1" r="0.9" fill="#0089fc"/>
<circle cx="417.5" cy="192.2" r="0.9" fill="#ff0060"/>
<circle cx="419.7" cy="173.9" r="0.9" fill="#0089fc"/>
<circle cx="420.1" cy="181.3" r="0.9" fill="#9a48dc"/>
<circle cx="421.3" cy="176.8" r="0.9" fill="#0089fc"/>
<circle cx="424.3" cy="167.4" r="0.9" fill="#ff0060"/>
<circle cx="420.2" cy="174.4" r="0.9" fill="#0089fc"/>
<circle cx="418.5" cy="188.6" r="0.9" fill="#ff0060"/>
</svg>
</body></html>
